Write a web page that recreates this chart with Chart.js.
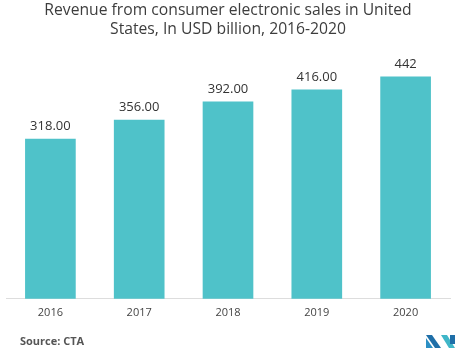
<!DOCTYPE html>
<html>
<head>
<meta charset="utf-8">
<script src="https://cdn.jsdelivr.net/npm/chart.js@4/dist/chart.umd.min.js"></script>
<style>
  html, body { margin: 0; padding: 0; background: #fff; }
  #wrap { position: relative; width: 474px; height: 356px; }
  canvas { display: block; }
</style>
</head>
<body>
<div id="wrap"><canvas id="c" width="474" height="356"></canvas></div>
<script>
const categories = ["2016", "2017", "2018", "2019", "2020"];
const revenue = [318, 356, 392, 416, 442];
const valueLabels = ["318.00", "356.00", "392.00", "416.00", "442"];
const titleLines = ["Revenue from consumer electronic sales in United", "States, In USD billion, 2016-2020"];
const sourceText = "Source: CTA";

const FONT = "'Open Sans', sans-serif";

const valueLabelPlugin = {
  id: 'valueLabels',
  afterDatasetsDraw(chart) {
    const ctx = chart.ctx;
    const meta = chart.getDatasetMeta(0);
    ctx.save();
    ctx.font = "13px " + FONT;
    ctx.fillStyle = "#333";
    ctx.textAlign = "center";
    ctx.textBaseline = "bottom";
    meta.data.forEach((bar, i) => {
      ctx.fillText(valueLabels[i], bar.x, bar.y - 6);
    });
    ctx.restore();
  }
};

const footerPlugin = {
  id: 'footer',
  afterDraw(chart) {
    const ctx = chart.ctx;
    ctx.save();
    ctx.font = "bold 11px " + FONT;
    ctx.fillStyle = "#555";
    ctx.textAlign = "left";
    ctx.textBaseline = "middle";
    ctx.fillText(sourceText, 20, 342);
    // logo
    const x0 = 426, y0 = 335, h = 13;
    ctx.fillStyle = "#1f6fa8";
    ctx.beginPath();
    ctx.moveTo(x0, y0); ctx.lineTo(x0 + 6, y0); ctx.lineTo(x0 + 15, y0 + h); ctx.lineTo(x0 + 9, y0 + h); ctx.closePath(); ctx.fill();
    ctx.fillStyle = "#2b8fc4";
    ctx.beginPath();
    ctx.moveTo(x0, y0 + 3); ctx.lineTo(x0 + 7, y0 + h); ctx.lineTo(x0, y0 + h); ctx.closePath(); ctx.fill();
    ctx.fillStyle = "#3fb6c8";
    ctx.beginPath();
    ctx.moveTo(x0 + 15, y0); ctx.lineTo(x0 + 21, y0); ctx.lineTo(x0 + 29, y0 + h); ctx.lineTo(x0 + 23, y0 + h); ctx.closePath(); ctx.fill();
    ctx.fillStyle = "#1f6fa8";
    ctx.fillRect(x0 + 24, y0, 5, 9);
    ctx.restore();
  }
};

new Chart(document.getElementById('c'), {
  type: 'bar',
  data: {
    labels: categories,
    datasets: [{
      data: revenue,
      backgroundColor: '#4fc2c9',
      borderWidth: 0,
      barThickness: 50
    }]
  },
  options: {
    responsive: false,
    animation: false,
    devicePixelRatio: 1,
    layout: { padding: { left: 6, right: 24, top: 0, bottom: 30 } },
    plugins: {
      legend: { display: false },
      tooltip: { enabled: false },
      title: {
        display: true,
        text: titleLines,
        color: '#3d3d3d',
        font: { family: FONT, size: 15.7, weight: 'normal', lineHeight: 1.2 },
        padding: { top: 1, bottom: 9 }
      }
    },
    scales: {
      x: {
        grid: { display: false, drawTicks: false },
        border: { display: true, color: '#dddddd', width: 1 },
        ticks: { color: '#444', font: { family: FONT, size: 11 }, padding: 7 }
      },
      y: {
        display: false,
        min: 0,
        max: 500
      }
    }
  },
  plugins: [valueLabelPlugin, footerPlugin]
});
</script>
</body>
</html>
